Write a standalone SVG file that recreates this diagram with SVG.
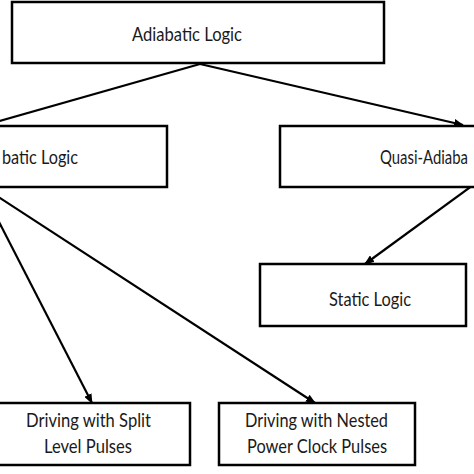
<svg xmlns="http://www.w3.org/2000/svg" width="474" height="474" viewBox="0 0 474 474">
<style>
.box{fill:#fff;stroke:#000;stroke-width:2.5}
.lbl{font-family:Lato,"Open Sans","Liberation Sans",sans-serif;font-size:20px;fill:#1a1a1a}
.con{stroke:#000;stroke-width:2.2;fill:none}
</style>
<defs>
<marker id="ah" markerUnits="userSpaceOnUse" markerWidth="10" markerHeight="8" refX="9" refY="4" orient="auto">
<path d="M0,0 L10,4 L0,8 Z" fill="#000"/>
</marker>
</defs>
<rect width="474" height="474" fill="#fff"/>
<g id="connectors">
<line class="con" x1="200" y1="64" x2="-4" y2="122"/>
<line class="con" x1="200" y1="64" x2="463" y2="125" marker-end="url(#ah)"/>
<line class="con" x1="476" y1="183" x2="365" y2="264" marker-end="url(#ah)"/>
<line class="con" x1="-3" y1="196" x2="315" y2="403" marker-end="url(#ah)"/>
<line class="con" x1="-1" y1="222" x2="92" y2="403" marker-end="url(#ah)"/>
</g>
<g id="n-adiabatic">
<rect class="box" x="12" y="2" width="372" height="61"/>
<text class="lbl" x="132" y="41" textLength="110" lengthAdjust="spacingAndGlyphs">Adiabatic Logic</text>
</g>
<g id="n-fully">
<rect class="box" x="-10" y="126" width="177" height="61"/>
<text class="lbl" x="2" y="164" textLength="76" lengthAdjust="spacingAndGlyphs">batic Logic</text>
</g>
<g id="n-quasi">
<rect class="box" x="280" y="126" width="210" height="61"/>
<text class="lbl" x="380" y="164" textLength="88" lengthAdjust="spacingAndGlyphs">Quasi-Adiaba</text>
</g>
<g id="n-static">
<rect class="box" x="260" y="264" width="206" height="62"/>
<text class="lbl" x="329" y="306" textLength="82" lengthAdjust="spacingAndGlyphs">Static Logic</text>
</g>
<g id="n-split">
<rect class="box" x="-10" y="403" width="200" height="62"/>
<text class="lbl" x="26" y="427" textLength="125" lengthAdjust="spacingAndGlyphs">Driving with Split</text>
<text class="lbl" x="44" y="453" textLength="88" lengthAdjust="spacingAndGlyphs">Level Pulses</text>
</g>
<g id="n-nested">
<rect class="box" x="219" y="403" width="196" height="62"/>
<text class="lbl" x="245" y="427" textLength="143" lengthAdjust="spacingAndGlyphs">Driving with Nested</text>
<text class="lbl" x="247" y="453" textLength="140" lengthAdjust="spacingAndGlyphs">Power Clock Pulses</text>
</g>
</svg>
